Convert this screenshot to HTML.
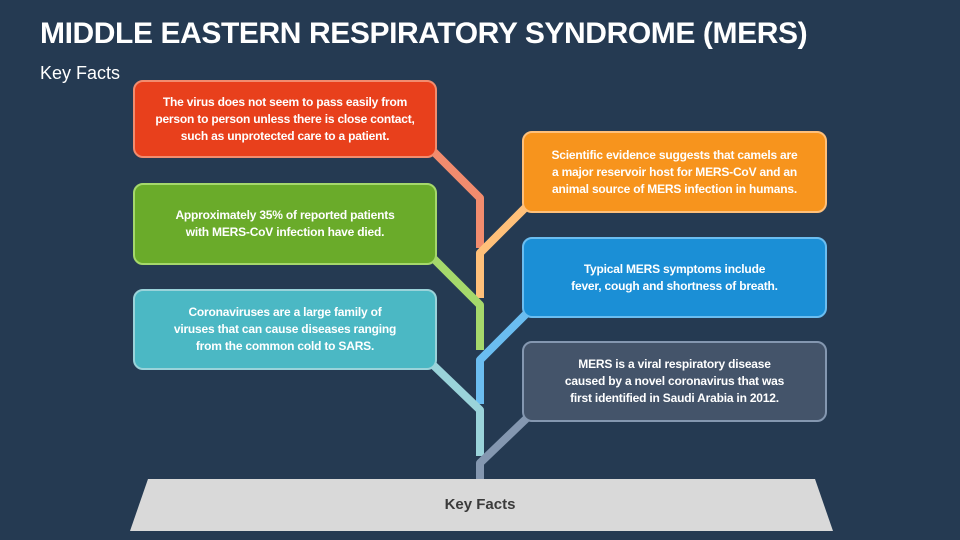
<!DOCTYPE html>
<html><head><style>
body{margin:0;width:960px;height:540px;background:#253A52;overflow:hidden;position:relative;font-family:"Liberation Sans",sans-serif}
.t{position:absolute;left:40px;top:17px;color:#fff;font-weight:bold;font-size:30px;letter-spacing:-0.4px}
.s{position:absolute;left:40px;top:63px;color:#fff;font-size:18px}
.b{position:absolute;box-sizing:border-box;border-radius:10px;border:2px solid;color:#fff;font-weight:bold;font-size:12px;line-height:17px;text-align:center;display:flex;align-items:center;justify-content:center;padding:0 4px;white-space:nowrap;letter-spacing:-0.2px}
</style></head><body>
<div class="t">MIDDLE EASTERN RESPIRATORY SYNDROME (MERS)</div>
<div class="s">Key Facts</div>
<svg width="960" height="540" style="position:absolute;left:0;top:0" fill="none" stroke-width="8" stroke-linejoin="round">
<polyline points="430,148 480,198 480,248" stroke="#F28C6E"/>
<polyline points="528,205 480,253 480,298" stroke="#FFC07A"/>
<polyline points="430,255 480,305 480,350" stroke="#A5D86B"/>
<polyline points="528,312 480,360 480,404" stroke="#6BBDF0"/>
<polyline points="430,362 480,410 480,456" stroke="#9AD3DA"/>
<polyline points="528,417 480,463 480,482" stroke="#8497B0"/>
<polygon points="148,479 815,479 833,531 130,531" fill="#D9D9D9" stroke="none"/>
<text x="480" y="509" text-anchor="middle" font-family="Liberation Sans" font-weight="bold" font-size="15" fill="#3b3b3b">Key Facts</text>
</svg>
<div class="b" style="left:133px;top:80px;width:304px;height:78px;background:#E8401C;border-color:#F28C6E">The virus does not seem to pass easily from<br>person to person unless there is close contact,<br>such as unprotected care to a patient.</div>
<div class="b" style="left:133px;top:183px;width:304px;height:82px;background:#6AAB2A;border-color:#A5D86B">Approximately 35% of reported patients<br>with MERS-CoV infection have died.</div>
<div class="b" style="left:133px;top:289px;width:304px;height:81px;background:#4BB8C4;border-color:#9AD3DA">Coronaviruses are a large family of<br>viruses that can cause diseases ranging<br>from the common cold to SARS.</div>
<div class="b" style="left:522px;top:131px;width:305px;height:82px;background:#F7941D;border-color:#FFC07A">Scientific evidence suggests that camels are<br>a major reservoir host for MERS-CoV and an<br>animal source of MERS infection in humans.</div>
<div class="b" style="left:522px;top:237px;width:305px;height:81px;background:#1B8FD6;border-color:#6BBDF0">Typical MERS symptoms include<br>fever, cough and shortness of breath.</div>
<div class="b" style="left:522px;top:341px;width:305px;height:81px;background:#44546A;border-color:#8497B0">MERS is a viral respiratory disease<br>caused by a novel coronavirus that was<br>first identified in Saudi Arabia in 2012.</div>
</body></html>
